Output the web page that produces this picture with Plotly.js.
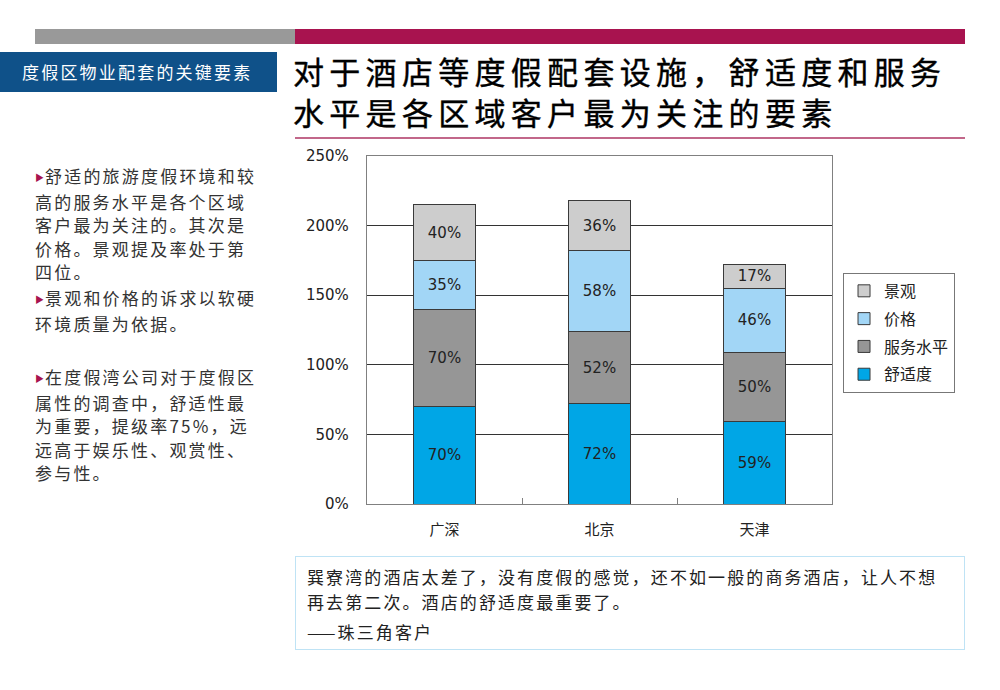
<!DOCTYPE html>
<html>
<head>
<meta charset="utf-8">
<script src="https://cdn.plot.ly/plotly-3.0.1.min.js"></script>
<style>
  html, body { margin: 0; padding: 0; background: #fff; }
  #wrap { position: relative; width: 1000px; height: 690px; overflow: hidden; }
  #chart { position: absolute; left: 0; top: 0; width: 1000px; height: 690px; }
  .ov { position: absolute; pointer-events: none; font-family: "Noto Sans CJK SC", "Noto Sans", sans-serif; }
  .bar-gray { left: 35px; top: 29px; width: 260px; height: 15px; background: #999999; }
  .bar-red { left: 295px; top: 29px; width: 670px; height: 15px; background: #A8134F; }
  .bluebox { left: 0; top: 52px; width: 277px; height: 40px; background: #0F5189; color: #fff;
             font-size: 17px; letter-spacing: 2.2px; line-height: 40px; padding-left: 22px; box-sizing: border-box; }
  .title { left: 293px; top: 50px; color: #000; font-size: 31px; letter-spacing: 5.3px; line-height: 41px; font-weight: 400; white-space: nowrap;
           -webkit-text-stroke: 0.4px #000; }
  .rule { left: 295px; top: 137px; width: 670px; height: 2px; background: #C2678A; }
  .side { left: 35px; color: #333; font-size: 17px; letter-spacing: 2.2px; line-height: 23.6px; white-space: nowrap; }
  .tri { color: #A8134F; font-size: 9px; letter-spacing: 1px; vertical-align: 2px; }
  .quote { left: 295px; top: 556px; width: 670px; height: 94px; border: 1.5px solid #BFE3F5; box-sizing: border-box;
           color: #222; font-size: 17px; letter-spacing: 2.1px; white-space: nowrap; }
  .q1 { position: absolute; left: 11px; top: 7px; line-height: 25px; }
  .q2 { position: absolute; left: 11px; top: 62px; line-height: 25px; }
</style>
</head>
<body>
<div id="wrap">
  <div id="chart"></div>
  <div class="ov bar-gray"></div>
  <div class="ov bar-red"></div>
  <div class="ov bluebox">度假区物业配套的关键要素</div>
  <div class="ov title">对于酒店等度假配套设施，舒适度和服务<br>水平是各区域客户最为关注的要素</div>
  <div class="ov rule"></div>
  <div class="ov side" style="top:164px;"><span class="tri">▶</span>舒适的旅游度假环境和较<br>高的服务水平是各个区域<br>客户最为关注的。其次是<br>价格。景观提及率处于第<br>四位。</div>
  <div class="ov side" style="top:286px;"><span class="tri">▶</span>景观和价格的诉求以软硬<br>环境质量为依据。</div>
  <div class="ov side" style="top:365px;"><span class="tri">▶</span>在度假湾公司对于度假区<br>属性的调查中，舒适性最<br>为重要，提级率75%，远<br>远高于娱乐性、观赏性、<br>参与性。</div>
  <div class="ov quote">
    <div class="q1">巽寮湾的酒店太差了，没有度假的感觉，还不如一般的商务酒店，让人不想<br>再去第二次。酒店的舒适度最重要了。</div>
    <div class="q2">——珠三角客户</div>
  </div>
</div>
<script>
const categories = ["广深", "北京", "天津"];
const seriesNames = ["舒适度", "服务水平", "价格", "景观"];
const comfort = [70, 72, 59];
const service = [70, 52, 50];
const price = [35, 58, 46];
const scenery = [40, 36, 17];
const yTickVals = [0, 50, 100, 150, 200, 250];
const yTickText = ["0%", "50%", "100%", "150%", "200%", "250%"];

const seriesValues = [comfort, service, price, scenery];
const colors = ["#00A6E6", "#969696", "#A2D6F6", "#CDCDCD"];

const traces = seriesValues.map((vals, i) => ({
  type: "bar",
  name: seriesNames[i],
  x: categories,
  y: vals,
  legendgroup: "g" + i,
  legendrank: 1000 - i,
  marker: { color: colors[i], line: { color: "#3a3a3a", width: 1 } },
  text: vals.map(v => v + "%"),
  textinfo: "text",
  texttemplate: "%{text}",
  textposition: "inside",
  insidetextanchor: "middle",
  textangle: 0,
  constraintext: "none",
  textfont: { family: "DejaVu Sans, sans-serif", size: 15, color: "#222" },
  hoverinfo: "skip"
}));

const layout = {
  width: 1000,
  height: 690,
  margin: { l: 367, r: 168, t: 156, b: 186, pad: 0 },
  paper_bgcolor: "rgba(0,0,0,0)",
  plot_bgcolor: "#ffffff",
  barmode: "stack",
  bargap: 0.6,
  showlegend: true,
  legend: {
    x: 1.0237, y: 0.664, xanchor: "left", yanchor: "top",
    bordercolor: "#777", borderwidth: 1, bgcolor: "#fff",
    traceorder: "grouped", tracegroupgap: 4,
    font: { family: "Noto Sans CJK SC, sans-serif", size: 16, color: "#222" },
    itemwidth: 30
  },
  xaxis: {
    type: "category",
    showline: true, linecolor: "#808080", linewidth: 1.2, mirror: true,
    ticks: "inside", ticklen: 6, tickcolor: "#808080", tickson: "boundaries",
    showgrid: false,
    tickfont: { family: "Noto Sans CJK SC, sans-serif", size: 15, color: "#222" },
    ticklabelstandoff: 12
  },
  yaxis: {
    range: [0, 250],
    tickvals: yTickVals, ticktext: yTickText,
    showline: true, linecolor: "#808080", linewidth: 1.2, mirror: true,
    showgrid: true, gridcolor: "#333", gridwidth: 1,
    zeroline: false, ticks: "",
    tickfont: { family: "DejaVu Sans, sans-serif", size: 15, color: "#222" },
    ticklabelstandoff: 14
  }
};

Plotly.newPlot("chart", traces, layout, { staticPlot: true, displayModeBar: false });
</script>
</body>
</html>
